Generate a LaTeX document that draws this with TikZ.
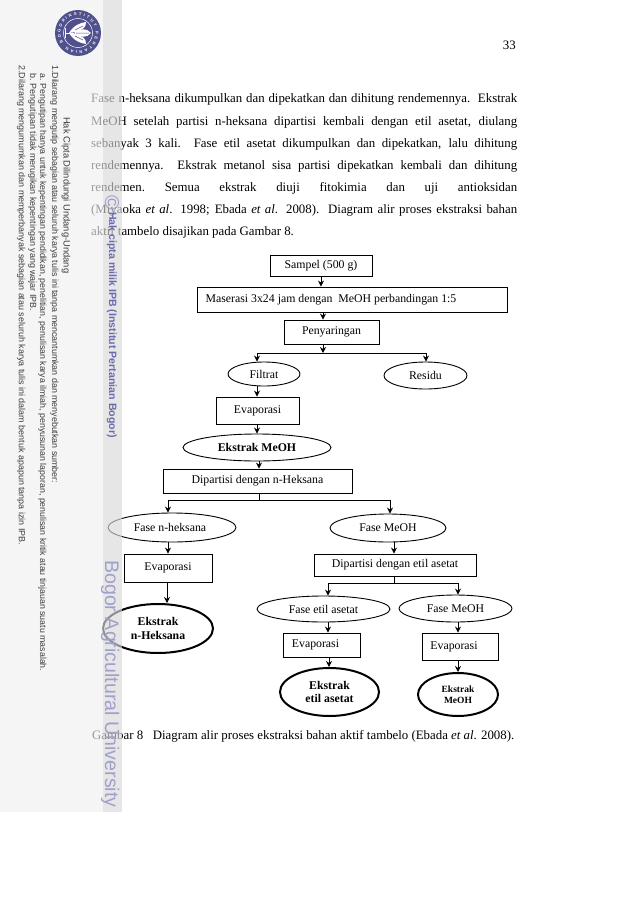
\documentclass[tikz,border=0pt]{standalone}
\usepackage{fontspec}
\setmainfont{Liberation Serif}
\setsansfont{Liberation Sans}
\usetikzlibrary{shapes.geometric,arrows.meta,decorations.text}
\definecolor{ipb}{HTML}{50508F}
\definecolor{ipbtxt}{HTML}{6A6AAE}
\definecolor{ipbbig}{HTML}{A0A0CC}
\definecolor{sidetxt}{HTML}{3C3C3C}
\tikzset{
  x=1pt,y=-1pt,
  boxn/.style={draw,line width=.9pt,inner sep=0pt,font=\fontsize{11.8}{13}\selectfont},
  ell/.style={boxn,ellipse},
  ellb/.style={ell,line width=2pt,font=\fontsize{11.8}{13.5}\selectfont\bfseries,align=center},
  arr/.style={-{Stealth[length=6pt,width=6pt]},line width=.9pt},
  lin/.style={line width=.9pt},
  bodyl/.style={anchor=base west,inner sep=0pt,font=\fontsize{12.85}{15}\selectfont},
  side/.style={rotate=-90,anchor=base west,inner sep=0pt,text=sidetxt,font=\sffamily\fontsize{8.95}{11}\selectfont},
}
\newcommand{\jl}[1]{\makebox[426pt][s]{#1}}
\begin{document}
\begin{tikzpicture}
\useasboundingbox (0,0) rectangle (638,902);
% body text
\node[anchor=base east,inner sep=0pt,font=\fontsize{12.85}{15}\selectfont] (pg) at (516,49) {33};
\node[bodyl] (l1) at (91,102) {\jl{Fase n-heksana dikumpulkan dan dipekatkan dan dihitung rendemennya.\ \ Ekstrak}};
\node[bodyl] (l2) at (91,125) {\jl{MeOH setelah partisi n-heksana dipartisi kembali dengan etil asetat, diulang}};
\node[bodyl] (l3) at (91,147) {\jl{sebanyak 3 kali.\ \ Fase etil asetat dikumpulkan dan dipekatkan, lalu dihitung}};
\node[bodyl] (l4) at (91,169) {\jl{rendemennya.\ \ Ekstrak metanol sisa partisi dipekatkan kembali dan dihitung}};
\node[bodyl] (l5) at (91,191) {\jl{rendemen.\ Semua ekstrak diuji fitokimia dan uji antioksidan}};
\node[bodyl] (l6) at (91,213) {\jl{(Miyaoka \textit{et al}. 1998; Ebada \textit{et al}. 2008).\ \ Diagram alir proses ekstraksi bahan}};
\node[bodyl] (l7) at (91,235) {aktif tambelo disajikan pada Gambar 8.};
\node[bodyl] (cap) at (92,739) {Gambar 8\ \ \ Diagram alir proses ekstraksi bahan aktif tambelo (Ebada \textit{et al}. 2008).};
% boxes
\node[boxn,minimum width=102pt,minimum height=21pt] (sampel) at (321,265.5) {Sampel (500 g)};
\node[boxn,minimum width=310pt,minimum height=25pt] (maser) at (352,299.5) {\hspace*{-42pt}Maserasi 3x24 jam dengan\ \ MeOH perbandingan 1:5};
\node[boxn,minimum width=95pt,minimum height=24pt] (saring) at (331.5,332) {Penyaringan};
\node[ell,minimum width=72pt,minimum height=24pt] (filtrat) at (264,374) {Filtrat};
\node[ell,minimum width=83pt,minimum height=27pt] (residu) at (425.5,375.5) {Residu};
\node[boxn,minimum width=83pt,minimum height=27pt] (evap1) at (257.5,410.5) {Evaporasi};
\node[ell,minimum width=148pt,minimum height=27pt,font=\fontsize{11.8}{13}\selectfont\bfseries] (ekmeoh) at (257,447.5) {Ekstrak MeOH};
\node[boxn,minimum width=189pt,minimum height=24pt] (parthex) at (257.5,481) {Dipartisi dengan n-Heksana};
\node[ell,minimum width=128pt,minimum height=29pt] (fhex) at (172,527.5) {\hspace*{-4pt}Fase n-heksana};
\node[ell,minimum width=116pt,minimum height=28pt] (fmeoh) at (388,528) {Fase MeOH};
\node[boxn,minimum width=88pt,minimum height=28pt] (evap2) at (168,568) {Evaporasi};
\node[ellb,minimum width=110pt,minimum height=49pt] (ekhex) at (158,628.5) {Ekstrak\\n-Heksana};
\node[boxn,minimum width=162pt,minimum height=22pt] (partet) at (395,565) {Dipartisi dengan etil asetat};
\node[ell,minimum width=133pt,minimum height=26pt] (fet) at (323.5,609) {Fase etil asetat};
\node[ell,minimum width=113pt,minimum height=27pt] (fmeoh2) at (455.5,608.5) {Fase MeOH};
\node[boxn,minimum width=77pt,minimum height=24pt] (evap3) at (321.5,645) {\hspace*{-12pt}Evaporasi};
\node[boxn,minimum width=76pt,minimum height=27pt] (evap4) at (460,646.5) {\hspace*{-12pt}Evaporasi};
\node[ellb,minimum width=99pt,minimum height=48pt] (eket) at (329.5,692) {Ekstrak\\etil asetat};
\node[ellb,minimum width=80pt,minimum height=43pt,font=\fontsize{9.5}{11.5}\selectfont\bfseries] (ekm2) at (458,694.5) {Ekstrak\\MeOH};
% connector columns
\coordinate (c1) at (321,0);
\coordinate (c2) at (323,0);
\coordinate (c3) at (257,0);
\coordinate (c4) at (426,0);
\coordinate (c5) at (259,0);
\coordinate (c6) at (168,0);
\coordinate (c7) at (390,0);
\coordinate (c8) at (394,0);
\coordinate (c9) at (328,0);
\coordinate (c10) at (458,0);
\coordinate (c11) at (167,0);
\coordinate (c12) at (329,0);
\coordinate (j1) at (323,353);
\coordinate (j2) at (259,500);
\coordinate (j3) at (394,583);
% connectors
\draw[arr] (sampel.south -| c1) -- (maser.north -| c1);
\draw[arr] (maser.south -| c2) -- (saring.north -| c2);
\draw[arr] (saring.south -| c2) -- (j1);
\draw[lin] (j1 -| c3) -- (j1 -| c4);
\draw[arr] (j1 -| c3) -- (filtrat.north -| c3);
\draw[arr] (j1 -| c4) -- (residu.north -| c4);
\draw[arr] (filtrat.south -| c3) -- (evap1.north -| c3);
\draw[arr] (evap1.south -| c3) -- (ekmeoh.north -| c3);
\draw[arr] (ekmeoh.south -| c5) -- (parthex.north -| c5);
\draw[lin] (parthex.south -| c5) -- (j2);
\draw[lin] (j2 -| c6) -- (j2 -| c7);
\draw[arr] (j2 -| c6) -- (fhex.north -| c6);
\draw[arr] (j2 -| c7) -- (fmeoh.north -| c7);
\draw[arr] (fhex.south -| c6) -- (evap2.north -| c6);
\draw[arr] (evap2.south -| c11) -- (ekhex.north -| c11);
\draw[arr] (fmeoh.south -| c8) -- (partet.north -| c8);
\draw[lin] (partet.south -| c8) -- (j3);
\draw[lin] (j3 -| c9) -- (j3 -| c10);
\draw[arr] (j3 -| c9) -- (fet.north -| c9);
\draw[arr] (j3 -| c10) -- (fmeoh2.north -| c10);
\draw[arr] (fet.south -| c9) -- (evap3.north -| c9);
\draw[arr] (fmeoh2.south -| c10) -- (evap4.north -| c10);
\draw[arr] (evap3.south -| c12) -- (eket.north -| c12);
\draw[arr] (evap4.south -| c10) -- (ekm2.north -| c10);
% sidebar overlay
\fill[color={rgb,255:red,240;green,240;blue,240},opacity=.65] (0,0) rectangle (103,812);
\fill[color={rgb,255:red,217;green,217;blue,217},opacity=.65] (103,0) rectangle (122,812);
% sidebar text
\node[side,font=\sffamily\fontsize{9.36}{11}\selectfont] (s0) at (63.5,117) {Hak Cipta Dilindungi Undang-Undang};
\node[side,font=\sffamily\fontsize{8.87}{11}\selectfont] (s1) at (52,65) {1.Dilarang mengutip sebagian atau seluruh karya tulis ini tanpa mencantumkan dan menyebutkan sumber:};
\node[side,font=\sffamily\fontsize{8.8}{11}\selectfont] (s2) at (40,73) {a. Pengutipan hanya untuk kepentingan pendidikan, penelitian, penulisan karya ilmiah, penyusunan laporan, penulisan kritik atau tinjauan suatu masalah.};
\node[side,font=\sffamily\fontsize{8.95}{11}\selectfont] (s3) at (30,73) {b. Pengutipan tidak merugikan kepentingan yang wajar IPB.};
\node[side] (s4) at (19,65) {2.Dilarang mengumumkan dan memperbanyak sebagian atau seluruh karya tulis ini dalam bentuk apapun tanpa izin IPB.};
\node[rotate=-90,anchor=base west,inner sep=0pt,text=ipbtxt,font=\sffamily\bfseries\fontsize{10.6}{12}\selectfont] (s5) at (109,212) {Hak cipta milik IPB (Institut Pertanian Bogor)};
\node[rotate=-90,anchor=center,inner sep=0pt,text=ipbtxt!70,font=\sffamily\fontsize{20}{22}\selectfont] (s6) at (112,203) {©};
\node[rotate=-90,anchor=base west,inner sep=0pt,text=ipbbig,font=\sffamily\fontsize{19.6}{22}\selectfont] (s7) at (105,560) {Bogor Agricultural University};
% logo
\fill[ipb] (78,33) circle (23);
\draw[white,line width=.5pt] (78,33) circle (14.5);
\path[postaction={decorate,decoration={text along path,text align=fit to path,
  text={|\sffamily\bfseries\fontsize{4}{4}\selectfont\color{white}|INSTITUT PERTANIAN BOGOR }}}]
  (78,33) ++(-130:17.5) arc[start angle=-130,delta angle=355,radius=17.5];
\fill[white] (69,33) .. controls (74,25) and (80,23) .. (86,22) .. controls (87,27) and (81,32) .. cycle;
\fill[white] (69,33) .. controls (74,41) and (80,43) .. (86,44) .. controls (87,39) and (81,34) .. cycle;
\fill[white] (74,33) .. controls (80,28) and (87,28) .. (91,33) .. controls (87,38) and (80,38) .. cycle;
\draw[ipb,line width=.5pt] (76,33) -- (89,33) (75,30) -- (83,26) (75,36) -- (83,40);
\draw[white,line width=1pt] (65,33) -- (74,33);
\draw[white,line width=.7pt] (65,28) -- (65,38);
\end{tikzpicture}
\end{document}
